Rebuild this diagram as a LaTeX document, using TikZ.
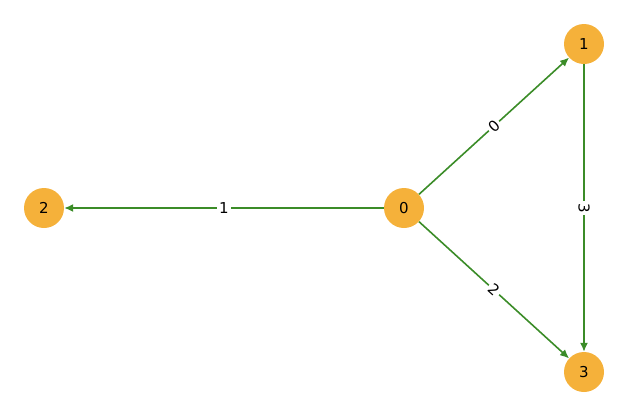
\documentclass[tikz,border=0pt]{standalone}
\usepackage{fontspec}
\setmainfont{DejaVu Sans}
\usetikzlibrary{arrows.meta}
\definecolor{nodeorange}{HTML}{F5B13A}
\definecolor{edgegreen}{HTML}{3B8C28}
\begin{document}
\begin{tikzpicture}[x=1pt,y=-1pt,
  vert/.style={circle,fill=nodeorange,minimum size=40pt,inner sep=0pt,font=\fontsize{15}{15}\selectfont},
  edge/.style={draw=edgegreen,line width=1.6pt,-{Latex[length=9pt,width=8pt]},shorten >=0pt},
  elabel/.style={fill=white,inner sep=2pt,font=\fontsize{15}{15}\selectfont,sloped}]
\useasboundingbox (0,0) rectangle (640,418);
\node[vert] (n0) at (404,208) {0};
\node[vert] (n1) at (584,44) {1};
\node[vert] (n2) at (44,208) {2};
\node[vert] (n3) at (584,372) {3};
\draw[edge] (n0) -- node[elabel] {0} (n1);
\draw[edge] (n0) -- node[elabel] {1} (n2);
\draw[edge] (n0) -- node[elabel] {2} (n3);
\draw[edge] (n1) -- node[elabel] {3} (n3);
\end{tikzpicture}
\end{document}
